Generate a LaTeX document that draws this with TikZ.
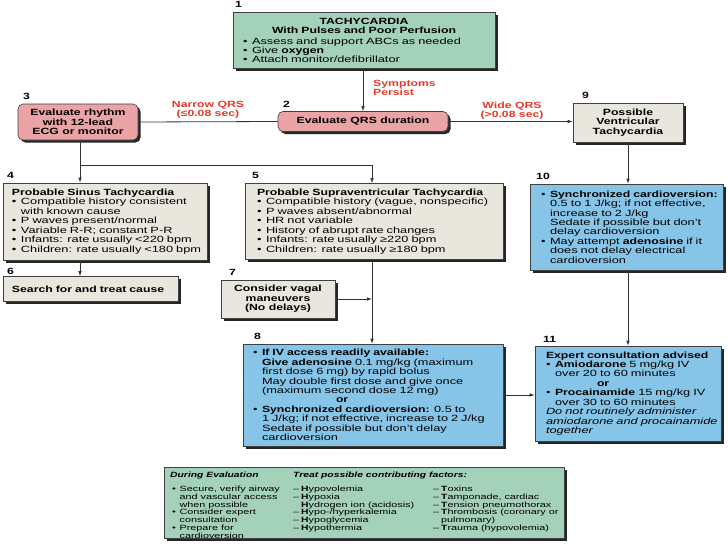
\documentclass[tikz,border=0pt]{standalone}
\usepackage{fontspec}
\setmainfont{Liberation Sans}[
  UprightFeatures={FakeStretch=1.42},
  BoldFeatures={FakeStretch=1.36},
  ItalicFeatures={FakeStretch=1.42},
  BoldItalicFeatures={FakeStretch=1.36}]
\usetikzlibrary{arrows.meta,shadows}
\definecolor{gfill}{RGB}{164,209,185}
\definecolor{pfill}{RGB}{234,164,166}
\definecolor{yfill}{RGB}{232,230,221}
\definecolor{bfill}{RGB}{134,197,232}
\definecolor{redtxt}{RGB}{232,58,40}
\hyphenpenalty=10000
\exhyphenpenalty=10000
\newcommand{\bodyf}{\fontsize{9}{9.45}\selectfont}
\newcommand{\smallf}{\fontsize{7.6}{7.75}\selectfont}
\newcommand{\bl}{\makebox[9pt][l]{\textbullet}}
\newcommand{\ind}{\hspace*{9pt}}
\newcommand{\sbl}{\makebox[7.5pt][l]{\textbullet}}
\newcommand{\sind}{\hspace*{7.5pt}}
\newcommand{\dsh}{\makebox[8pt][l]{--}}
\newcommand{\dind}{\hspace*{8pt}}
\newcommand{\LS}[1]{\raggedright\leftskip=#1pt\relax}
\begin{document}
\begin{tikzpicture}[x=1pt,y=-1pt,
  box/.style={draw=black!75, line width=0.6pt,
    general shadow={fill=black!85, shadow xshift=2.5pt, shadow yshift=-2.5pt},
    font=\bodyf, inner xsep=0pt, inner ysep=1pt},
  gbox/.style={box, fill=gfill},
  pbox/.style={box, fill=pfill, rounded corners=5pt},
  ybox/.style={box, fill=yfill},
  bbox/.style={box, fill=bfill},
  num/.style={font=\fontsize{9}{9}\selectfont\bfseries, inner sep=0pt, anchor=west},
  lab/.style={font=\fontsize{9}{9.2}\selectfont\bfseries, text=redtxt, inner sep=0pt, align=center},
  conn/.style={draw=black!80, line width=0.8pt},
  arr/.style={conn, -{Latex[length=5pt,width=3.6pt]}},
  txt/.style={inner sep=0pt, anchor=north west, align=left}
]
\useasboundingbox (0,0) rectangle (728,546);
\fill[white] (0,0) rectangle (728,546);

% box 1
\node[gbox, minimum width=262pt, minimum height=56pt, text width=262pt] (b1) at (364,40.5)
 {{\centering\bfseries TACHYCARDIA\\ With Pulses and Poor Perfusion\par}
  \vspace{1pt}\LS{10}\bl Assess and support ABCs as needed\\
  \bl Give \textbf{oxygen}\\
  \bl Attach monitor/defibrillator\par};
\node[num] (n1) at (235,4) {1};

% box 2
\node[pbox, minimum width=170pt, minimum height=20pt, align=center, font=\bodyf\bfseries] (b2) at (363,121.5) {Evaluate QRS duration};
\node[num] (n2) at (283,104) {2};

% box 3
\node[pbox, minimum width=120pt, minimum height=36pt, align=center, font=\bodyf\bfseries] (b3) at (78,122) {Evaluate rhythm\\ with 12-lead\\ ECG or monitor};
\node[num] (n3) at (23,96) {3};

% box 9
\node[ybox, minimum width=110pt, minimum height=39pt, align=center, font=\bodyf\bfseries] (b9) at (628,122.5) {Possible\\ Ventricular\\ Tachycardia};
\node[num] (n9) at (582,95) {9};

% box 4
\node[ybox, minimum width=204pt, minimum height=77pt, text width=204pt] (b4) at (105,221.5)
 {\LS{9}\textbf{Probable Sinus Tachycardia}\\
  \bl Compatible history consistent\\
  \ind with known cause\\
  \bl P waves present/normal\\
  \bl Variable R-R; constant P-R\\
  \bl Infants: rate usually <220 bpm\\
  \bl Children: rate usually <180 bpm\par};
\node[num] (n4) at (7,175) {4};

% box 6
\node[ybox, minimum width=175pt, minimum height=25pt, text width=175pt, font=\bodyf\bfseries] (b6) at (90.5,289) {\LS{9}Search for and treat cause\par};
\node[num] (n6) at (7,271) {6};

% box 5
\node[ybox, minimum width=258pt, minimum height=76pt, text width=258pt] (b5) at (374,221.5)
 {\LS{12}\textbf{Probable Supraventricular Tachycardia}\\
  \bl Compatible history (vague, nonspecific)\\
  \bl P waves absent/abnormal\\
  \bl HR not variable\\
  \bl History of abrupt rate changes\\
  \bl Infants: rate usually ≥220 bpm\\
  \bl Children: rate usually ≥180 bpm\par};
\node[num] (n5) at (252,175) {5};

% box 7
\node[ybox, minimum width=114pt, minimum height=38pt, align=center, font=\bodyf\bfseries] (b7) at (278,299) {Consider vagal\\ maneuvers\\ (No delays)};
\node[num] (n7) at (229,272) {7};

% box 8
\node[bbox, minimum width=260pt, minimum height=102pt, text width=260pt] (b8) at (373,395)
 {\LS{10}\bl\textbf{If IV access readily available:}\\
  \ind\textbf{Give adenosine} 0.1 mg/kg (maximum\\
  \ind first dose 6 mg) by rapid bolus\\
  \ind May double first dose and give once\\
  \ind (maximum second dose 12 mg)\\
  \hspace*{83pt}\textbf{or}\\
  \bl\textbf{Synchronized cardioversion:} 0.5 to\\
  \ind 1 J/kg; if not effective, increase to 2 J/kg\\
  \ind Sedate if possible but don't delay\\
  \ind cardioversion\par};
\node[num] (n8) at (254,336) {8};

% box 10
\node[bbox, minimum width=193pt, minimum height=86pt, text width=193pt] (b10) at (626.5,227)
 {\LS{11}\bl\textbf{Synchronized cardioversion:}\\
  \ind 0.5 to 1 J/kg; if not effective,\\
  \ind increase to 2 J/kg\\
  \ind Sedate if possible but don't\\
  \ind delay cardioversion\\
  \bl May attempt \textbf{adenosine} if it\\
  \ind does not delay electrical\\
  \ind cardioversion\par};
\node[num] (n10) at (536,176) {10};

% box 11
\node[bbox, minimum width=186pt, minimum height=95pt, text width=186pt] (b11) at (628,393.5)
 {\LS{11}\textbf{Expert consultation advised}\\
  \bl\textbf{Amiodarone} 5 mg/kg IV\\
  \ind over 20 to 60 minutes\\
  \hspace*{51pt}\textbf{or}\\
  \bl\textbf{Procainamide} 15 mg/kg IV\\
  \ind over 30 to 60 minutes\\
  \textit{Do not routinely administer}\\
  \textit{amiodarone and procainamide}\\
  \textit{together}\par};
\node[num] (n11) at (543,339) {11};

% bottom box
\node[gbox, minimum width=400pt, minimum height=71pt] (bb) at (364,502.5) {};
\node[txt, font=\smallf\bfseries\itshape] (h1) at (170,472) {During Evaluation};
\node[txt, font=\smallf\bfseries\itshape] (h2) at (293,472) {Treat possible contributing factors:};
\node[txt, font=\smallf] (c1) at (172,486)
 {\sbl Secure, verify airway\\ \sind and vascular access\\ \sind when possible\\
  \sbl Consider expert\\ \sind consultation\\ \sbl Prepare for\\ \sind cardioversion};
\node[txt, font=\smallf] (c2) at (293,486)
 {\dsh\textbf{H}ypovolemia\\ \dsh\textbf{H}ypoxia\\ \dind\textbf{H}ydrogen ion (acidosis)\\
  \dsh\textbf{H}ypo-/hyperkalemia\\ \dsh\textbf{H}ypoglycemia\\ \dsh\textbf{H}ypothermia};
\node[txt, font=\smallf] (c3) at (433,486)
 {\dsh\textbf{T}oxins\\ \dsh\textbf{T}amponade, cardiac\\ \dsh\textbf{T}ension pneumothorax\\
  \dsh\textbf{T}hrombosis (coronary or\\ \dind pulmonary)\\ \dsh\textbf{T}rauma (hypovolemia)};

% labels
\node[lab, anchor=north west, align=left] (ls) at (373,80) {Symptoms\\ Persist};
\node[lab] (ln) at (208,110) {Narrow QRS\\ (≤0.08 sec)};
\node[lab] (lw) at (512,111) {Wide QRS\\ (>0.08 sec)};

% connectors
\coordinate (j1) at (80,165);
\coordinate (j2) at (372,165);
\coordinate (j7) at (372,299);
\draw[arr] (b1.south -| b2.north) -- (b2.north);
\draw[conn] (b2.west) -- (b3.east);
\draw[arr] (b2.east) -- (b2.east -| b9.west);
\draw[conn] (b3.south -| j1) -- (j1) -- (j2);
\draw[arr] (j1) -- (b4.north -| j1);
\draw[arr] (j2) -- (b5.north -| j2);
\draw[arr] (b4.south -| j1) -- (b6.north -| j1);
\draw[arr] (b5.south -| j2) -- (b8.north -| j2);
\draw[arr] (b7.east) -- (j7);
\draw[arr] (b8.east) -- (b8.east -| b11.west);
\draw[arr] (b9.south) -- (b10.north -| b9.south);
\draw[arr] (b10.south -| b9.south) -- (b11.north -| b9.south);
\end{tikzpicture}
\end{document}
